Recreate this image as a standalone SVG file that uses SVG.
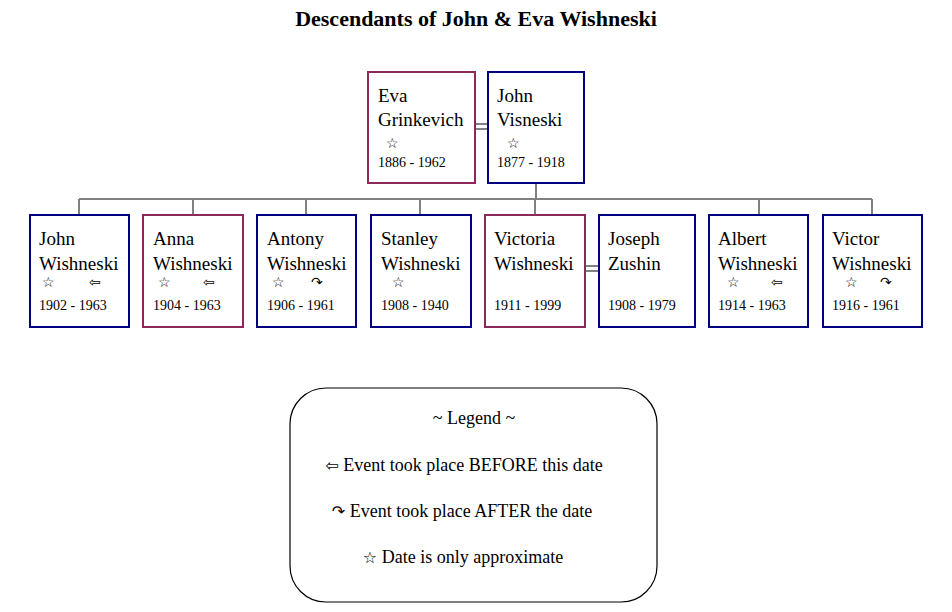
<svg xmlns="http://www.w3.org/2000/svg" width="952" height="612" viewBox="0 0 952 612">
<style>
text{font-family:"Liberation Serif",serif;fill:#000}
.n{font-size:19px}
.d{font-size:14px}
.s{font-family:"DejaVu Sans",sans-serif;font-size:14px}
.m{fill:#fff;stroke:#000080;stroke-width:2}
.f{fill:#fff;stroke:#8b2a5a;stroke-width:2}
.c{stroke:#808080;stroke-width:2;fill:none}
.lg{font-size:18px}
</style>
<rect width="952" height="612" fill="#fff"/>
<text x="476" y="26" text-anchor="middle" style="font-size:22px;font-weight:bold">Descendants of John &amp; Eva Wishneski</text>
<g id="connectors">
<path class="c" d="M475 124H488M475 129H488"/>
<path class="c" d="M536 183V199M79 199H872M79 199V215M193 199V215M306 199V215M420 199V215M535 199V215M759 199V215M872 199V215"/>
<path class="c" d="M585 266H599M585 271H599"/>
</g>
<g id="eva"><rect class="f" x="368" y="72" width="107" height="111"/><text class="n" x="378" y="102">Eva</text><text class="n" x="378" y="126">Grinkevich</text><text class="s" x="386" y="148">☆</text><text class="d" x="378" y="167">1886 - 1962</text></g>
<g id="john"><rect class="m" x="488" y="72" width="96" height="111"/><text class="n" x="497" y="102">John</text><text class="n" x="497" y="126">Visneski</text><text class="s" x="507" y="148">☆</text><text class="d" x="497" y="167">1877 - 1918</text></g>
<g id="johnw"><rect class="m" x="30" y="215" width="99" height="112"/><text class="n" x="39" y="245">John</text><text class="n" x="39" y="270">Wishneski</text><text class="s" x="42" y="287">☆</text><text class="s" x="89" y="287">⇦</text><text class="d" x="39" y="310">1902 - 1963</text></g>
<g id="anna"><rect class="f" x="143" y="215" width="100" height="112"/><text class="n" x="153" y="245">Anna</text><text class="n" x="153" y="270">Wishneski</text><text class="s" x="158" y="287">☆</text><text class="s" x="203" y="287">⇦</text><text class="d" x="153" y="310">1904 - 1963</text></g>
<g id="antony"><rect class="m" x="257" y="215" width="99" height="112"/><text class="n" x="267" y="245">Antony</text><text class="n" x="267" y="270">Wishneski</text><text class="s" x="272" y="287">☆</text><text class="s" x="311" y="287">↷</text><text class="d" x="267" y="310">1906 - 1961</text></g>
<g id="stanley"><rect class="m" x="371" y="215" width="100" height="112"/><text class="n" x="381" y="245">Stanley</text><text class="n" x="381" y="270">Wishneski</text><text class="s" x="392" y="287">☆</text><text class="d" x="381" y="310">1908 - 1940</text></g>
<g id="victoria"><rect class="f" x="485" y="215" width="100" height="112"/><text class="n" x="494" y="245">Victoria</text><text class="n" x="494" y="270">Wishneski</text><text class="d" x="494" y="310">1911 - 1999</text></g>
<g id="joseph"><rect class="m" x="599" y="215" width="96" height="112"/><text class="n" x="608" y="245">Joseph</text><text class="n" x="608" y="270">Zushin</text><text class="d" x="608" y="310">1908 - 1979</text></g>
<g id="albert"><rect class="m" x="709" y="215" width="99" height="112"/><text class="n" x="718" y="245">Albert</text><text class="n" x="718" y="270">Wishneski</text><text class="s" x="727" y="287">☆</text><text class="s" x="771" y="287">⇦</text><text class="d" x="718" y="310">1914 - 1963</text></g>
<g id="victor"><rect class="m" x="823" y="215" width="99" height="112"/><text class="n" x="832" y="245">Victor</text><text class="n" x="832" y="270">Wishneski</text><text class="s" x="845" y="287">☆</text><text class="s" x="880" y="287">↷</text><text class="d" x="832" y="310">1916 - 1961</text></g>
<g id="legend"><rect x="290" y="388" width="367" height="214" rx="36" fill="#fff" stroke="#000" stroke-width="1.2"/>
<text class="lg" x="474" y="424" text-anchor="middle">~ Legend ~</text>
<text class="lg" x="464" y="471" text-anchor="middle"><tspan class="s" style="font-size:16px">⇦</tspan> Event took place BEFORE this date</text>
<text class="lg" x="462" y="517" text-anchor="middle"><tspan class="s" style="font-size:16px">↷</tspan> Event took place AFTER the date</text>
<text class="lg" x="463" y="563" text-anchor="middle"><tspan class="s" style="font-size:16px">☆</tspan> Date is only approximate</text>
</g>
</svg>
